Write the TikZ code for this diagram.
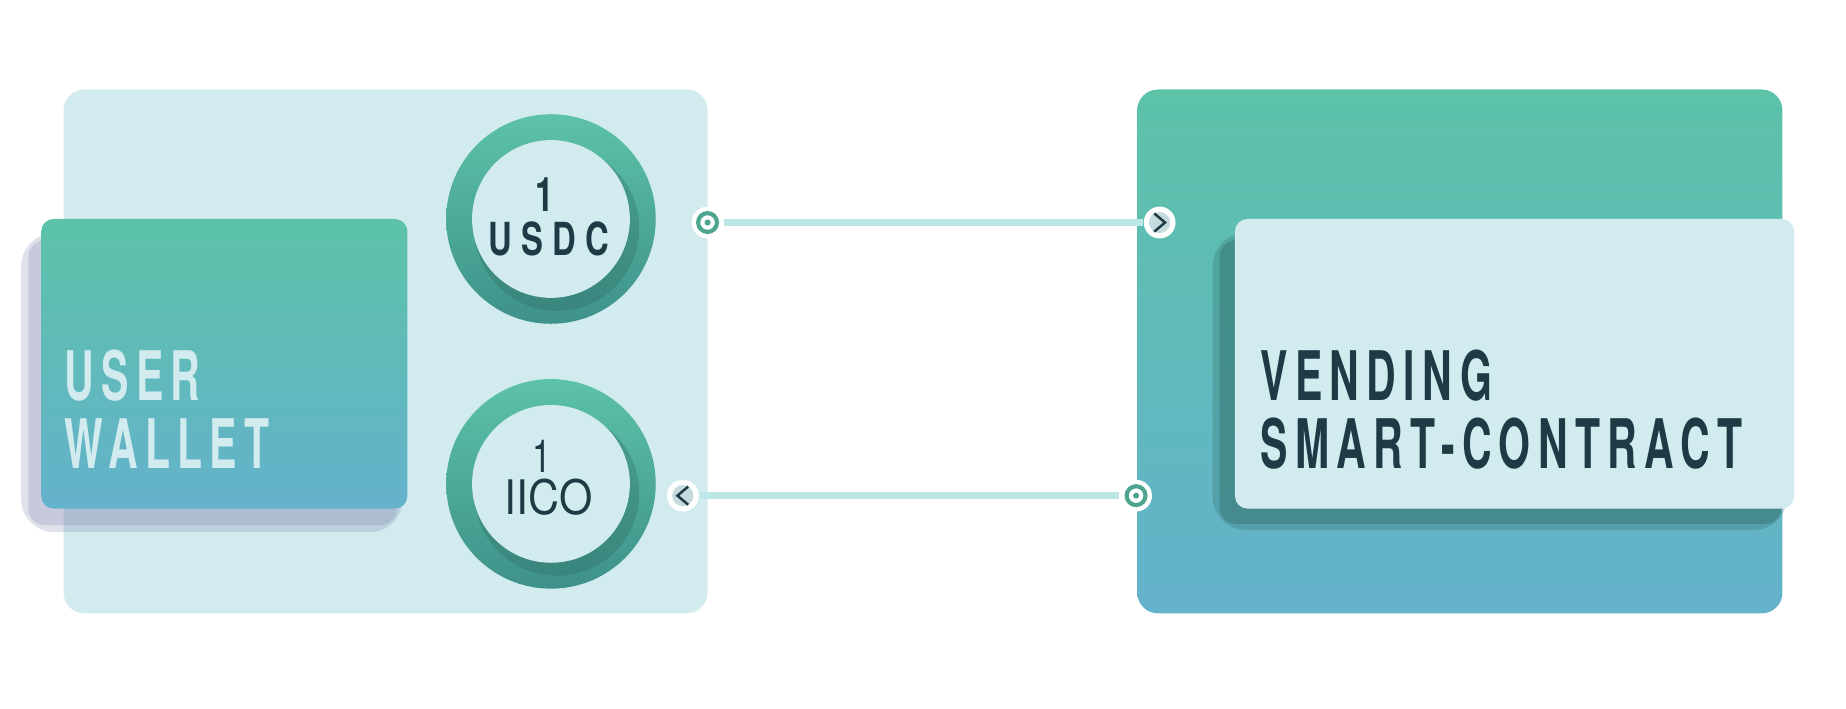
\documentclass[tikz,border=0pt]{standalone}
\usepackage{fontspec}
\setmainfont{TeX Gyre Heros}
\definecolor{pale}{HTML}{D2EBEF}
\definecolor{tblue}{HTML}{64B2CC}
\definecolor{tgreen}{HTML}{5CC2A8}
\definecolor{ink}{HTML}{1F3A45}
\definecolor{ringdark}{HTML}{3E9189}
\definecolor{linec}{HTML}{BDE6E6}
\definecolor{shadowc}{HTML}{7E86B0}
\newcommand{\bigtxt}[1]{\scalebox{0.6}[1]{\fontsize{16.5}{18}\selectfont\addfontfeatures{LetterSpace=18}\bfseries #1}}
\tikzset{
 panel/.style={rounded corners=5pt, draw=none},
 gradfill/.style={shade, shading angle=-45, top color=tgreen, bottom color=tblue},
 dotend/.style={circle, fill=white, minimum size=0.27cm, inner sep=0pt},
 lbl/.style={anchor=base west, inner sep=0pt},
 ctxt/.style={anchor=base, inner sep=0pt, text=ink},
}
\begin{document}
\begin{tikzpicture}[x=0.01cm,y=-0.01cm]
\useasboundingbox (0,0) rectangle (1568,602);
% left panel
\fill[pale, panel] (54,76) rectangle (601,521);
% right panel
\path[panel, gradfill] (966,76) rectangle (1514,521);
% user wallet shadow
\foreach \o in {0.07,0.09,0.11}{\fill[rounded corners=8pt, color=shadowc, opacity=\o] (18,198) rectangle (342,452);}
\fill[rounded corners=4pt, color=shadowc, opacity=0.25] (24,204) rectangle (337,446);
\path[rounded corners=3pt, gradfill] (35,186) rectangle (346,432);
\node (uw1) [lbl, text=pale] at (54,340) {\bigtxt{USER}};
\node (uw2) [lbl, text=pale] at (54,398) {\bigtxt{WALLET}};
% vending shadow
\foreach \o in {0.12,0.16}{\fill[rounded corners=8pt, color=ringdark!70!black, opacity=\o] (1030,198) rectangle (1518,450);}
\fill[rounded corners=4pt, color=ringdark!70!black, opacity=0.35] (1036,204) rectangle (1513,445);
\fill[pale, rounded corners=3pt] (1049,186) rectangle (1524,432);
\node (vd1) [lbl, text=ink] at (1070,340) {\bigtxt{VENDING}};
\node (vd2) [lbl, text=ink] at (1070,398) {\bigtxt{SMART-CONTRACT}};
% coins
\foreach \cy/\nm in {186/c1,411/c2}{
 \path[shade, shading angle=-45, top color=tgreen, bottom color=ringdark] (468,\cy) circle (89);
 \fill[ringdark!70!black, opacity=0.3] (473,\cy+8) circle (70);
 \fill[pale] (468,\cy) circle (67);
 \coordinate (\nm) at (468,\cy);
}
\node (n1) [ctxt] at (463,180) {\scalebox{0.7}[1]{\fontsize{11.5}{14}\selectfont\bfseries 1}};
\node (u1) [ctxt] at (466,217) {\scalebox{0.72}[1]{\fontsize{11}{14}\selectfont\bfseries\addfontfeatures{LetterSpace=28}USDC}};
\node (n2) [ctxt] at (460,401) {\scalebox{0.75}[1]{\fontsize{11}{14}\selectfont 1}};
\node (u2) [ctxt] at (466,437) {\scalebox{0.9}[1]{\fontsize{11.5}{14}\selectfont IICO}};
% connector ends
\node (a1) [dotend] at (601,189) {};
\node (b1) [dotend] at (985,189) {};
\node (a2) [dotend] at (580,421) {};
\node (b2) [dotend] at (965,421) {};
\draw[linec, line width=1.6pt] (a1.east) -- (b1.west);
\draw[linec, line width=1.6pt] (a2.east) -- (b2.west);
\foreach \n in {a1,b2}{
 \draw[tgreen!85!black, line width=1pt] (\n) circle (8);
 \fill[tgreen!85!black] (\n) circle (2.6);
}
\foreach \n in {b1,a2}{\fill[pale!85!gray] (\n) circle (9);}
\draw[ink, line width=0.6pt] ([xshift=-1.3pt,yshift=-2.2pt]b1.center) -- ([xshift=1.3pt]b1.center) -- ([xshift=-1.3pt,yshift=2.2pt]b1.center);
\draw[ink, line width=0.6pt] ([xshift=1.3pt,yshift=-2.2pt]a2.center) -- ([xshift=-1.3pt]a2.center) -- ([xshift=1.3pt,yshift=2.2pt]a2.center);
\end{tikzpicture}
\end{document}
